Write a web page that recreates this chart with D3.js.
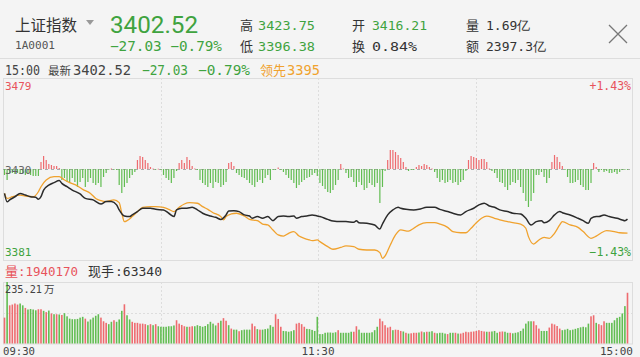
<!DOCTYPE html>
<html><head><meta charset="utf-8">
<script src="https://cdn.jsdelivr.net/npm/d3@7/dist/d3.min.js"></script>
<style>
html,body{margin:0;padding:0;background:#f4f4f4;}
svg{display:block;}
text{font-family:"DejaVu Sans Mono",monospace;}
.cjk{font-family:"Noto Sans CJK SC","Noto Sans",sans-serif;}
</style></head><body>
<svg id="c" width="640" height="357"></svg>
<script>
// ---------- DATA ----------
const indexName = "上证指数";
const indexCode = "1A0001";
const lastPrice = 3402.52;
const prevClose = 3429.55;
const change = -27.03;
const changePct = -0.79;
const highPrice = 3423.75, lowPrice = 3396.38, openPrice = 3416.21;
const turnover = "0.84%";
const volumeText = "1.69亿";
const amountText = "2397.3亿";
const leadLast = 3395;
const lastVol = 1940170;
const lastHand = 63340;
const rangePct = 1.43;
const timeLabels = ["09:30", "11:30", "15:00"];
const volMaxLabel = "235.21万";

// price line: [minute index, price]
const pricePoints = [[0,3416.4],[1,3411.9],[2,3412.9],[4,3414.6],[6,3416.4],[8,3415.5],[10,3414.6],[12,3414.3],[13,3413.2],[14,3414.6],[15,3418.2],[17,3420.9],[19,3422.2],[21,3423.3],[22,3421.8],[24,3420.0],[26,3418.2],[29,3416.1],[31,3413.7],[34,3412.9],[37,3410.7],[39,3412.0],[41,3412.0],[43,3410.2],[44,3407.5],[46,3404.2],[48,3403.9],[49,3404.8],[51,3406.6],[53,3408.4],[56,3408.4],[58,3407.8],[61,3407.5],[63,3405.7],[65,3403.9],[66,3407.5],[68,3408.4],[70,3408.4],[72,3408.9],[74,3407.5],[76,3405.7],[79,3404.2],[81,3403.5],[83,3402.4],[85,3404.8],[86,3406.9],[88,3407.1],[90,3406.6],[92,3404.8],[94,3404.2],[95,3403.0],[97,3403.9],[99,3403.0],[101,3403.9],[103,3401.7],[105,3403.9],[107,3404.2],[109,3403.9],[111,3404.2],[112,3403.0],[114,3403.9],[116,3404.2],[118,3404.8],[120,3404.2],[121,3403.9],[124,3402.4],[126,3401.5],[129,3401.2],[131,3401.2],[134,3400.8],[135,3401.7],[136,3400.6],[139,3400.3],[142,3399.4],[144,3397.2],[145,3399.9],[147,3404.8],[149,3407.5],[151,3408.9],[152,3408.4],[154,3407.8],[157,3407.5],[159,3407.8],[162,3408.9],[165,3408.9],[167,3407.8],[170,3406.6],[172,3405.7],[175,3404.8],[177,3406.6],[180,3408.4],[182,3410.2],[184,3411.1],[186,3409.6],[188,3408.9],[190,3407.5],[193,3406.6],[195,3405.7],[198,3405.3],[200,3403.0],[202,3399.4],[204,3401.2],[206,3401.7],[207,3400.6],[209,3401.7],[211,3404.8],[213,3406.6],[214,3406.0],[217,3404.8],[220,3403.0],[222,3401.7],[224,3400.3],[225,3403.0],[227,3403.9],[228,3403.9],[230,3404.8],[232,3403.9],[235,3403.0],[237,3402.1],[238,3401.7],[239,3402.5]];

// leading line: [minute index, value]
const leadPoints = [[0,3416.4],[1,3413.7],[3,3414.6],[6,3415.5],[8,3415.0],[11,3414.6],[13,3417.3],[14,3420.0],[16,3423.6],[19,3425.4],[21,3425.4],[23,3423.6],[25,3422.2],[28,3420.4],[30,3418.6],[33,3416.4],[35,3413.7],[37,3412.5],[39,3412.0],[42,3412.9],[44,3411.4],[45,3405.7],[46,3401.2],[47,3401.7],[49,3403.9],[51,3406.6],[53,3408.9],[56,3409.3],[58,3409.3],[61,3408.9],[63,3407.8],[65,3406.6],[67,3408.9],[69,3410.7],[71,3411.4],[74,3411.1],[76,3409.3],[78,3407.8],[80,3406.0],[83,3403.9],[84,3402.1],[85,3403.9],[87,3405.3],[89,3405.7],[92,3404.2],[94,3402.4],[97,3401.7],[99,3399.9],[101,3399.4],[103,3396.7],[105,3394.0],[107,3393.4],[109,3394.9],[111,3395.8],[113,3393.4],[115,3392.2],[117,3391.3],[118,3390.9],[120,3391.3],[121,3390.4],[124,3387.7],[126,3386.3],[129,3387.3],[131,3388.1],[134,3387.7],[136,3386.3],[139,3385.9],[142,3385.9],[144,3384.5],[145,3381.4],[146,3382.7],[148,3388.6],[150,3394.0],[152,3396.7],[155,3396.1],[157,3397.6],[159,3399.4],[162,3400.6],[165,3400.6],[167,3399.9],[170,3398.1],[172,3395.8],[175,3395.2],[177,3395.2],[179,3397.6],[181,3400.6],[183,3403.0],[185,3404.2],[188,3403.0],[190,3402.1],[193,3401.2],[195,3400.6],[198,3399.9],[200,3397.6],[201,3393.1],[203,3389.1],[205,3391.3],[207,3392.7],[209,3392.2],[211,3394.9],[213,3399.4],[214,3401.2],[217,3399.4],[220,3398.1],[222,3395.8],[225,3392.2],[227,3393.4],[229,3395.2],[231,3396.3],[234,3395.8],[236,3395.2],[239,3395.0]];

// buy/sell power histogram, one per minute
const powerBars = [
-6,-11,-4,-4,-5,-4,-4,-4,-6,-5,
-6,-7,-7,-7,7,13,9,5,4,3,
3,1,-11,-9,-13,-14,-9,-13,-18,-13,
-9,-18,-13,-9,-14,-16,-14,-18,-8,-4,
-0.5,0.5,-0.5,-1,-16,-24,-18,-14,-9,-6,
-3,9,13,12,9,6,2,0.5,-0.5,0.3,
-0.5,-6,-9,-11,-14,-9,-2,6,9,6,
12,9,3,0.5,-1,-11,-14,-16,-18,-14,
-19,-13,-14,-18,-16,-13,6,7,3,-4,
-6,-8,-9,-11,-14,-16,-18,-13,-11,-14,
-9,-6,-11,-1,-0.5,1.5,-0.5,-3,-6,-9,
-11,-14,-19,-16,-13,-11,-9,-8,-6,-4,
-7,-14,-17,-20,-23,-24,-21,-16,-11,5,
0.5,-4,-9,-8,-13,-18,-13,-16,-21,-19,
-14,-16,-18,-14,-34,-18,-2,9,19,19,
17,14,11,7,2,-2,-1,-1,2,4,
3,5,4,2,0.5,-3,-9,-13,-11,-14,
-13,-11,-14,-13,-16,-13,-11,-2,9,13,
12,11,9,10,10,7,0.5,-2,-4,-9,
-13,-14,-18,-21,-16,-13,-14,-11,-18,-24,
-32,-38,-32,-24,-6,-6,-3,-8,-14,-9,
7,14,12,7,3,-1,-8,-14,-14,-13,
-11,-16,-18,-21,-21,-14,6,2,-3,-1,
-3,-2,-4,-4,-3,-5,-3,-1,-0.5,-0.5];

// volume per minute, 万股
const volumes = [
99,235.21,146,149,153,149,153,146,136,130,
132,130,127,131,131,125,120,126,115,112,
112,111,109,116,104,95,93,93,94,99,
102,95,84,92,99,106,112,99,85,79,
74,83,89,83,92,125,150,108,92,83,
79,79,76,76,74,70,74,70,74,66,
64,64,64,66,66,69,89,76,71,66,
64,64,66,66,70,67,64,67,74,83,
76,69,79,87,97,87,70,57,53,53,
47,51,53,53,53,76,66,55,53,53,
55,57,70,64,112,94,64,48,47,45,
47,51,76,79,74,64,56,55,52,48,
102,36,36,41,42,42,41,43,51,41,
41,41,41,45,45,66,53,41,41,41,
41,43,51,64,95,85,70,61,64,51,
53,52,48,46,41,38,39,41,41,42,
46,43,45,45,47,41,39,41,41,38,
36,41,41,41,38,38,41,45,43,45,
46,48,51,48,46,45,45,46,48,41,
45,46,45,41,41,39,41,43,48,57,
76,85,85,85,70,57,48,48,48,61,
76,73,67,57,51,53,56,51,53,56,
59,62,64,62,76,104,108,79,74,70,
85,79,79,79,89,98,102,115,143,194.017];

// r = up minute, g = down minute
const volDir = ("rgrrrrggrg"+"gggrrgrgrg"+"rgrggggggg"+"grgggggrrr"+"ggrgggrggr"+
 "rrrrrgrgrg"+"ggggggrrrr"+"grrggggggg"+"ggrgrrgrgg"+"rggggrrgrg"+
 "ggggrrrggg"+"ggrrrrgggg"+"ggggggggrg"+"ggggrrgggg"+"ggggrrrrrg"+
 "rrrgrgrrrg"+"rgrggrgggg"+"rggrgrrrrr"+"rrrrrgrggg"+"rrggrggggg"+
 "gggrrrgggr"+"rrrrgggggg"+"gggggrrgrr"+"rggggggggr").split("");

// ---------- DRAW ----------
const RED = "#e8535b", GREEN = "#3fa33f", BARGREEN = "#62bd52", BARRED = "#ee6b6f";
const ORANGE = "#f0a22e", DARK = "#333";
const svg = d3.select("#c");
svg.append("rect").attr("width",640).attr("height",357).attr("fill","#f4f4f4");

const L = 3, R = 633, T = 78, B = 260, VT = 282, VB = 343.5;
const x = d3.scaleLinear().domain([0, 239]).range([4.5, 627.5]);
const delta = prevClose * rangePct / 100;
const y = d3.scaleLinear().domain([prevClose - delta, prevClose + delta]).range([B, T]);
const yp = d3.scaleLinear().domain([-91, 91]).range([B, T]);
const yv = d3.scaleLinear().domain([0, 235.21]).range([VB, VT]);

function txt(xp, yp_, s, opt) {
  const t = svg.append("text").attr("x", xp).attr("y", yp_).text(s)
    .attr("fill", opt.fill || DARK).attr("font-size", opt.size || 13);
  if (opt.cls) t.attr("class", opt.cls);
  if (opt.anchor) t.attr("text-anchor", opt.anchor);
  if (opt.len) t.attr("textLength", opt.len).attr("lengthAdjust", "spacingAndGlyphs");
  if (opt.family) t.style("font-family", opt.family);
  return t;
}
const fmt2 = d3.format(".2f");

// header
txt(15, 31, indexName, {cls:"cjk", size:15.5, fill:"#333"});
svg.append("path").attr("d","M86,20 L94,20 L90,25 Z").attr("fill","#999");
txt(15, 49, indexCode, {size:10.5, fill:"#555", len:40});
txt(110, 33, fmt2(lastPrice), {size:24, fill:GREEN, family:"Roboto", len:88});
txt(110, 51, "\u2212" + fmt2(-change) + " \u2212" + fmt2(-changePct) + "%", {size:13.5, fill:GREEN, len:112});
txt(240, 30, "高", {cls:"cjk", size:13, fill:"#333"});
txt(258, 30, fmt2(highPrice), {size:13, fill:GREEN, len:57});
txt(240, 51, "低", {cls:"cjk", size:13, fill:"#333"});
txt(258, 51, fmt2(lowPrice), {size:13, fill:GREEN, len:57});
txt(352, 30, "开", {cls:"cjk", size:13, fill:"#333"});
txt(372, 30, fmt2(openPrice), {size:13, fill:GREEN, len:55});
txt(352, 51, "换", {cls:"cjk", size:13, fill:"#333"});
txt(372, 51, turnover, {size:13, fill:"#333", len:45});
txt(466, 30, "量", {cls:"cjk", size:13, fill:"#333"});
txt(486, 30, volumeText, {size:13, fill:"#333"});
txt(466, 51, "额", {cls:"cjk", size:13, fill:"#333"});
txt(486, 51, amountText, {size:13, fill:"#333"});
svg.append("path").attr("d","M609,25 L627,43 M627,25 L609,43").attr("stroke","#777").attr("stroke-width",1.3);
svg.append("line").attr("x1",0).attr("x2",640).attr("y1",58.5).attr("y2",58.5).attr("stroke","#ddd");

// info row
txt(5, 75, timeLabels[2], {size:13.5, fill:"#444", len:35});
txt(48, 75, "最新", {cls:"cjk", size:11.5, fill:"#444"});
txt(73, 75, fmt2(lastPrice), {size:13.5, fill:"#444", len:58});
txt(142, 75, "\u2212" + fmt2(-change), {size:13.5, fill:GREEN, len:46});
txt(198, 75, "\u2212" + fmt2(-changePct) + "%", {size:13.5, fill:GREEN, len:52});
txt(260, 75, "领先", {cls:"cjk", size:13, fill:ORANGE});
txt(287, 75, String(leadLast), {size:13.5, fill:ORANGE, len:33});

// main frame
svg.append("rect").attr("x",L+0.5).attr("y",T+0.5).attr("width",R-L-1).attr("height",B-T).attr("fill","none").attr("stroke","#ddd");
[0.25,0.5,0.75].forEach(f => {
  const xx = Math.round(L + (R-L)*f) + 0.5;
  svg.append("line").attr("x1",xx).attr("x2",xx).attr("y1",T).attr("y2",B).attr("stroke","#ddd").attr("stroke-dasharray","2,2");
  svg.append("line").attr("x1",xx).attr("x2",xx).attr("y1",VT).attr("y2",VB).attr("stroke","#ddd").attr("stroke-dasharray","2,2");
});
svg.append("line").attr("x1",L).attr("x2",R).attr("y1",Math.round(y(prevClose))+0.5).attr("y2",Math.round(y(prevClose))+0.5)
  .attr("stroke","#aaa").attr("stroke-dasharray","3,3");

// power bars
svg.append("g").selectAll("rect").data(powerBars).join("rect")
  .attr("x", (d,i) => x(i) - 0.6).attr("width", 1.2)
  .attr("y", d => Math.min(yp(d), yp(0)))
  .attr("height", d => Math.max(0.8, Math.abs(yp(d) - yp(0))))
  .attr("fill", d => d >= 0 ? BARRED : BARGREEN);

// lines
const line = d3.line().x(d => x(d[0])).y(d => y(d[1])).curve(d3.curveMonotoneX);
svg.append("path").datum(leadPoints).attr("d", line).attr("fill","none").attr("stroke",ORANGE).attr("stroke-width",1.3);
svg.append("path").datum(pricePoints).attr("d", line).attr("fill","none").attr("stroke","#2b2b2b").attr("stroke-width",1.5);

// axis labels main
const topV = Math.round(prevClose + delta), botV = Math.round(prevClose - delta);
txt(5, 90, String(topV), {size:11, fill:RED});
txt(631, 90, "+" + rangePct.toFixed(2) + "%", {size:11.5, fill:RED, anchor:"end"});
txt(5, 174, String(Math.round(prevClose)), {size:11, fill:"#666"});
txt(5, 256, String(botV), {size:11, fill:GREEN});
txt(631, 256, "\u2212" + rangePct.toFixed(2) + "%", {size:11.5, fill:GREEN, anchor:"end"});

// volume header
txt(5, 276, "量", {cls:"cjk", size:13, fill:RED});
txt(18, 276, ":" + lastVol, {size:13, fill:RED, len:60});
txt(88, 276, "现手", {cls:"cjk", size:13, fill:"#333"});
txt(115, 276, ":" + lastHand, {size:13, fill:"#333", len:47});

// volume frame
svg.append("rect").attr("x",L+0.5).attr("y",VT+0.5).attr("width",R-L-1).attr("height",VB-VT).attr("fill","none").attr("stroke","#ddd");
svg.append("line").attr("x1",L).attr("x2",R).attr("y1",Math.round(yv(235.21/2))+0.5).attr("y2",Math.round(yv(235.21/2))+0.5)
  .attr("stroke","#ddd").attr("stroke-dasharray","2,2");
svg.append("g").selectAll("rect").data(volumes).join("rect")
  .attr("x", (d,i) => x(i) - 0.8).attr("width", 1.6)
  .attr("y", d => yv(d)).attr("height", d => yv(0) - yv(d))
  .attr("fill", (d,i) => volDir[i] === "r" ? BARRED : BARGREEN);
txt(5, 293, volMaxLabel.replace("万",""), {size:11, fill:"#444", len:37});
txt(44, 293, "万", {cls:"cjk", size:10.5, fill:"#444"});

// time labels
txt(3, 355, timeLabels[0], {size:11, fill:"#444", len:32});
txt(318, 355, timeLabels[1], {size:11, fill:"#444", anchor:"middle"});
txt(633, 355, timeLabels[2], {size:11, fill:"#444", anchor:"end"});
</script></body></html>
